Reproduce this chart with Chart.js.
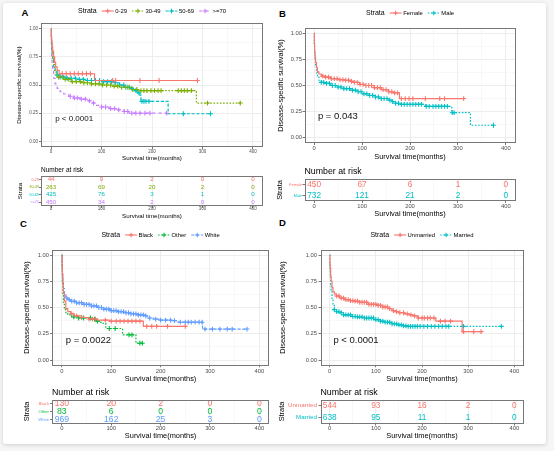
<!DOCTYPE html>
<html lang="en">
<head>
<meta charset="UTF-8">
<title>Disease-specific survival by strata</title>
<script src="https://cdn.jsdelivr.net/npm/chart.js"></script>
<style>
  body { margin: 0; background: #f6f6f6; width: 554px; height: 451px; overflow: hidden; }
  #card { position: absolute; left: 3px; top: 3px; width: 543px; height: 441px; background: #fff;
          border-radius: 3px; box-shadow: 0 1px 4px rgba(0, 0, 0, 0.16); }
  canvas { position: absolute; }
  .tag { position: absolute; font: bold 9.5px "Liberation Sans", Arial, sans-serif; line-height: 10px; color: #000; }
</style>
</head>
<body>
<div id="card"></div>
<div class="tag" style="left:21.5px; top:8px">A</div>
<div class="tag" style="left:279px; top:8.5px">B</div>
<div class="tag" style="left:20px; top:219px">C</div>
<div class="tag" style="left:279px; top:218px">D</div>

<script>
// ---------- data ----------
const timeTicks = [0, 100, 200, 300, 400];
const survTicks = [0, 0.25, 0.5, 0.75, 1];

// A: age group. curves are [time, survival] steps
const ageNames = ['0-29', '30-49', '50-69', '>=70'];
const age0to29 = [[0,1],[0.5,0.93],[1,0.89],[2,0.84],[3,0.80],[5,0.75],[7,0.70],[9,0.66],[12,0.63],[16,0.60],[86,0.54],[290,0.54]];
const age30to49 = [[0,1],[0.5,0.92],[1,0.86],[2,0.80],[3,0.74],[5,0.68],[7,0.63],[10,0.59],[15,0.57],[25,0.55],[40,0.53],[60,0.52],[80,0.51],[100,0.50],[120,0.49],[140,0.48],[160,0.46],[175,0.45],[288,0.34],[375,0.34]];
const age50to69 = [[0,1],[0.5,0.90],[1,0.84],[2,0.78],[3,0.72],[5,0.66],[8,0.62],[12,0.59],[18,0.57],[30,0.56],[50,0.55],[70,0.54],[100,0.53],[125,0.52],[135,0.50],[145,0.48],[155,0.47],[165,0.45],[172,0.43],[176,0.41],[178,0.355],[232,0.245],[316,0.245]];
const age70plus = [[0,1],[0.5,0.85],[1,0.76],[2,0.68],[3,0.62],[5,0.56],[8,0.51],[12,0.47],[18,0.44],[25,0.42],[35,0.40],[45,0.385],[60,0.375],[70,0.36],[80,0.34],[90,0.32],[100,0.305],[115,0.29],[130,0.28],[145,0.265],[155,0.25],[229,0.25]];
const age0to29Cens = [22, 30, 38, 46, 54, 62, 70, 78, 122, 128, 176, 214, 290];
const age30to49Cens = [15, 22, 28, 35, 42, 50, 58, 65, 72, 80, 88, 95, 102, 110, 118, 125, 132, 140, 148, 155, 162, 170, 178, 184, 190, 198, 205, 212, 218, 252, 258, 264, 270, 278, 310, 375];
const age50to69Cens = [12, 18, 25, 32, 40, 48, 56, 64, 72, 80, 88, 96, 104, 112, 120, 128, 136, 144, 152, 160, 168, 174, 180, 184, 188, 194, 262, 316];
const age70plusCens = [38, 46, 52, 60, 68, 76, 84, 100, 108, 118, 126, 134, 145, 152, 160, 168, 176, 186, 196, 229];
const ageRisk = [[44, 9, 2, 0, 0], [263, 69, 20, 2, 0], [425, 76, 3, 1, 0], [450, 34, 2, 0, 0]];
const ageP = 'p < 0.0001';

// B: sex
const sexNames = ['Female', 'Male'];
const female = [[0,1],[0.5,0.90],[1,0.83],[2,0.77],[3,0.72],[5,0.67],[7,0.63],[10,0.61],[15,0.59],[22,0.58],[35,0.565],[50,0.555],[65,0.55],[76,0.54],[83,0.53],[95,0.51],[105,0.50],[125,0.48],[140,0.46],[155,0.44],[165,0.43],[178,0.375],[312,0.375]];
const male = [[0,1],[0.5,0.88],[1,0.80],[2,0.74],[3,0.68],[5,0.62],[7,0.58],[10,0.55],[15,0.53],[21,0.52],[35,0.50],[49,0.485],[62,0.47],[76,0.455],[90,0.44],[100,0.42],[115,0.405],[128,0.39],[140,0.375],[153,0.36],[162,0.345],[170,0.33],[180,0.32],[232,0.30],[287,0.24],[326,0.12],[374,0.12]];
const femaleCens = [18, 24, 30, 36, 42, 48, 54, 60, 66, 72, 78, 84, 90, 96, 102, 108, 114, 120, 126, 132, 138, 144, 150, 156, 162, 168, 174, 182, 190, 198, 206, 232, 262, 272, 312];
const maleCens = [15, 20, 26, 32, 38, 44, 50, 56, 62, 68, 74, 80, 86, 92, 98, 104, 110, 116, 122, 128, 134, 140, 146, 152, 158, 164, 170, 176, 182, 188, 194, 200, 206, 212, 218, 224, 234, 240, 248, 254, 260, 266, 272, 278, 288, 292, 374];
const sexRisk = [[450, 67, 6, 1, 0], [732, 121, 21, 2, 0]];
const sexP = 'p = 0.043';

// C: race
const raceNames = ['Black', 'Other', 'White'];
const black = [[0,1],[0.5,0.90],[1,0.82],[2,0.72],[3,0.64],[5,0.56],[8,0.49],[12,0.46],[18,0.44],[25,0.42],[40,0.405],[55,0.39],[72,0.38],[96,0.37],[165,0.32],[250,0.32]];
const other = [[0,1],[0.5,0.85],[1,0.75],[2,0.62],[3,0.55],[5,0.48],[8,0.45],[12,0.43],[20,0.41],[32,0.40],[59,0.39],[70,0.37],[79,0.35],[89,0.30],[123,0.24],[150,0.16],[163,0.16]];
const white = [[0,1],[0.5,0.88],[1,0.80],[2,0.74],[3,0.68],[5,0.63],[8,0.59],[12,0.575],[18,0.56],[30,0.545],[45,0.53],[60,0.515],[72,0.50],[85,0.485],[99,0.47],[112,0.46],[126,0.45],[140,0.44],[153,0.43],[167,0.42],[175,0.40],[185,0.39],[200,0.38],[221,0.375],[235,0.36],[285,0.295],[375,0.295]];
const blackCens = [20, 30, 40, 55, 62, 68, 88, 100, 110, 118, 126, 134, 142, 150, 158, 172, 182, 192, 214, 250];
const otherCens = [24, 34, 44, 58, 66, 72, 96, 108, 136, 142, 158, 163];
const whiteCens = [10, 15, 20, 25, 30, 35, 40, 45, 50, 55, 60, 65, 70, 75, 80, 85, 90, 95, 100, 105, 110, 115, 120, 125, 130, 135, 140, 145, 150, 155, 160, 165, 170, 178, 190, 200, 210, 220, 228, 240, 250, 256, 262, 270, 278, 284, 290, 305, 320, 335, 345, 375];
const raceRisk = [[130, 20, 2, 0, 0], [83, 6, 0, 0, 0], [969, 162, 25, 3, 0]];
const raceP = 'p = 0.0022';

// D: marital status
const maritalNames = ['Unmarried', 'Married'];
const unmarried = [[0,1],[0.5,0.92],[1,0.87],[2,0.80],[3,0.75],[5,0.69],[7,0.65],[10,0.63],[14,0.61],[22,0.59],[32,0.575],[45,0.565],[54,0.56],[65,0.55],[83,0.53],[104,0.52],[115,0.505],[126,0.49],[135,0.47],[141,0.46],[150,0.45],[162,0.44],[172,0.43],[180,0.42],[191,0.40],[230,0.37],[287,0.27],[328,0.27]];
const married = [[0,1],[0.5,0.88],[1,0.80],[2,0.72],[3,0.65],[5,0.57],[7,0.52],[10,0.48],[15,0.46],[21,0.45],[30,0.43],[46,0.415],[60,0.41],[75,0.40],[97,0.385],[110,0.37],[119,0.36],[135,0.345],[148,0.335],[160,0.325],[170,0.32],[372,0.32]];
const unmarriedCens = [15, 20, 25, 30, 35, 40, 45, 50, 55, 60, 65, 70, 75, 80, 85, 90, 95, 100, 105, 110, 115, 120, 125, 130, 138, 145, 152, 160, 168, 176, 184, 192, 200, 205, 212, 218, 226, 240, 250, 262, 290, 312, 328];
const marriedCens = [10, 15, 20, 25, 30, 35, 40, 45, 50, 55, 60, 65, 70, 75, 80, 85, 90, 95, 100, 105, 110, 115, 120, 125, 130, 135, 140, 145, 150, 155, 160, 165, 170, 175, 180, 185, 190, 196, 204, 212, 220, 228, 236, 244, 252, 258, 290, 372];
const maritalRisk = [[544, 93, 16, 2, 0], [638, 95, 11, 1, 0]];
const maritalP = 'p < 0.0001';

// ---------- style ----------
const FONT = '"Liberation Sans", Arial, sans-serif';
const ageColors = ['#F8766D', '#7CAE00', '#00BFC4', '#C77CFF'];
const sexColors = ['#F8766D', '#00BFC4'];
const raceColors = ['#F8766D', '#00BA38', '#619CFF'];
const maritalColors = ['#F8766D', '#00BFC4'];
const dashes = [[], [1.6, 1.6], [3.2, 1.6], [3.2, 3.2]];

// placement of each canvas; area = [left, top, right, bottom] of the plotting box (page px)
const geoA = {
  km:   { left: 0, top: 0, width: 277, height: 164, area: [41, 23, 263, 147], legendY: 11,
          tickFs: 4.5, titleFs: 6.2, xTickY: 152, xTitleY: 158.5, yTickRight: 38, yTitleX: 19.5, pFs: 8, pX: 8, pY: 0.2 },
  risk: { left: 0, top: 164, width: 277, height: 58, area: [41, 176, 263, 206], headY: 170, headFs: 6.5,
          numFs: 6.2, rowFs: 3.8, tickFs: 4.5, titleFs: 6.2, xTickY: 208.5, xTitleY: 216.5, yTickRight: 39, yTitleX: 20.5 }
};
const geoB = {
  km:   { left: 277, top: 0, width: 277, height: 164, area: [304.5, 28, 515.5, 143], legendY: 13,
          tickFs: 5.8, titleFs: 7.4, xTickY: 148, xTitleY: 157, yTickRight: 302, yTitleX: 281, pFs: 9.5, pX: 8, pY: 0.2 },
  risk: { left: 277, top: 164, width: 277, height: 56, area: [304.5, 179, 515.5, 201], headY: 172, headFs: 8.8,
          numFs: 8.3, rowFs: 3.8, tickFs: 5.8, titleFs: 7.4, xTickY: 206, xTitleY: 213.5, yTickRight: 302, yTitleX: 280 }
};
const geoC = {
  km:   { left: 0, top: 222, width: 277, height: 163, area: [52, 249.75, 269.2, 365.25], legendY: 235,
          tickFs: 5.8, titleFs: 7.4, xTickY: 371, xTitleY: 379, yTickRight: 49, yTitleX: 27, pFs: 9.5, pX: 8, pY: 0.19 },
  risk: { left: 0, top: 385, width: 277, height: 56, area: [52, 399.5, 269.2, 423.5], headY: 393, headFs: 8.8,
          numFs: 8.7, rowFs: 4.2, tickFs: 5.8, titleFs: 7.4, xTickY: 428, xTitleY: 436, yTickRight: 49, yTitleX: 27 }
};
const geoD = {
  km:   { left: 277, top: 222, width: 277, height: 163, area: [320.5, 249.75, 523.5, 365.25], legendY: 235,
          tickFs: 5.8, titleFs: 7.4, xTickY: 371, xTitleY: 379, yTickRight: 317, yTitleX: 283, pFs: 9.5, pX: 8, pY: 0.19 },
  risk: { left: 277, top: 385, width: 277, height: 56, area: [320.5, 399.5, 523.5, 423.5], headY: 393, headFs: 8.8,
          numFs: 8.3, rowFs: 6.2, tickFs: 5.8, titleFs: 7.4, xTickY: 428, xTitleY: 436, yTickRight: 317, yTitleX: 282 }
};

// ---------- helpers ----------
function font(size, weight) { return { family: FONT, size: size, weight: weight || 'normal' }; }
function fontStr(size) { return size + 'px ' + FONT; }
function isMajor(v, ticks) { return ticks.some(t => Math.abs(t - v) < 1e-9); }
function withMinor(ticks) {
  const out = [];
  ticks.forEach((t, i) => { out.push(t); if (i < ticks.length - 1) out.push((t + ticks[i + 1]) / 2); });
  return out;
}
function survAt(curve, t) {
  let s = curve[0][1];
  curve.forEach(([ct, cs]) => { if (ct <= t) s = cs; });
  return s;
}
function makeCanvas(g) {
  const c = document.createElement('canvas');
  c.width = g.width; c.height = g.height;
  c.style.left = g.left + 'px'; c.style.top = g.top + 'px';
  c.style.width = g.width + 'px'; c.style.height = g.height + 'px';
  document.body.appendChild(c);
  return c;
}

const panelBox = {
  id: 'panelBox',
  afterDraw(chart) {
    const a = chart.chartArea, ctx = chart.ctx;
    ctx.save();
    ctx.strokeStyle = '#777';
    ctx.lineWidth = 1;
    ctx.strokeRect(Math.round(a.left) + 0.5, Math.round(a.top) + 0.5, Math.round(a.right - a.left) - 1, Math.round(a.bottom - a.top) - 1);
    ctx.restore();
  }
};

const strataLegend = {
  id: 'strataLegend',
  afterDraw(chart, args, opts) {
    if (!opts.show) return;
    const ctx = chart.ctx, a = chart.chartArea;
    const items = chart.data.datasets.filter(d => d.strata);
    const key = 12, gap = 2.5;
    ctx.save();
    ctx.textBaseline = 'middle';
    ctx.font = fontStr(7);
    const tw = ctx.measureText('Strata').width;
    ctx.font = fontStr(5.9);
    const widths = items.map(d => ctx.measureText(d.label).width);
    const total = tw + widths.reduce((s, w) => s + gap * 2 + key + 1.5 + w, 0);
    let x = (a.left + a.right) / 2 - total / 2;
    const y = opts.y;
    ctx.fillStyle = '#000';
    ctx.font = fontStr(7);
    ctx.fillText('Strata', x, y);
    x += tw + gap * 2;
    items.forEach((d, i) => {
      ctx.strokeStyle = d.borderColor;
      ctx.lineWidth = 1.1;
      ctx.setLineDash(d.borderDash);
      ctx.beginPath(); ctx.moveTo(x, y); ctx.lineTo(x + key, y); ctx.stroke();
      ctx.setLineDash([]);
      ctx.beginPath();
      ctx.moveTo(x + key / 2 - 2.2, y); ctx.lineTo(x + key / 2 + 2.2, y);
      ctx.moveTo(x + key / 2, y - 2.2); ctx.lineTo(x + key / 2, y + 2.2);
      ctx.stroke();
      x += key + 1.5;
      ctx.fillStyle = '#000';
      ctx.font = fontStr(5.9);
      ctx.fillText(d.label, x, y);
      x += widths[i] + gap * 2;
    });
    ctx.restore();
  }
};

const pLabel = {
  id: 'pLabel',
  afterDatasetsDraw(chart, args, opts) {
    if (!opts.text) return;
    const ctx = chart.ctx;
    ctx.save();
    ctx.font = fontStr(opts.size);
    ctx.fillStyle = '#111';
    ctx.textAlign = 'left';
    ctx.textBaseline = 'middle';
    ctx.fillText(opts.text, chart.scales.x.getPixelForValue(opts.x), chart.scales.y.getPixelForValue(opts.y));
    ctx.restore();
  }
};

const riskNumbers = {
  id: 'riskNumbers',
  afterDatasetsDraw(chart, args, opts) {
    if (!opts.size) return;
    const ctx = chart.ctx;
    ctx.save();
    ctx.font = fontStr(opts.size);
    ctx.textAlign = 'center';
    ctx.textBaseline = 'middle';
    chart.data.datasets.forEach((d, i) => {
      ctx.fillStyle = d.textColor;
      chart.getDatasetMeta(i).data.forEach((pt, j) => ctx.fillText(String(d.data[j].n), pt.x, pt.y));
    });
    ctx.restore();
  }
};

function xAxis(g) {
  const tl = 2;
  const bottom = g.area[3] - g.top;
  return {
    type: 'linear', min: -20, max: 420,
    afterBuildTicks: s => { s.ticks = withMinor(timeTicks).map(v => ({ value: v })); },
    afterFit: s => { s.height = g.height - bottom; },
    ticks: {
      autoSkip: false, maxRotation: 0, minRotation: 0,
      font: font(g.tickFs), color: '#4d4d4d',
      padding: g.xTickY - g.area[3] - tl - 0.6 * g.tickFs,
      callback: v => isMajor(v, timeTicks) ? String(v) : ''
    },
    grid: {
      color: c => (c.tick && isMajor(c.tick.value, timeTicks)) ? '#ebebeb' : '#f4f4f4',
      lineWidth: c => (c.tick && isMajor(c.tick.value, timeTicks)) ? 0.9 : 0.6,
      tickLength: tl,
      tickColor: c => (c.tick && isMajor(c.tick.value, timeTicks)) ? '#555' : 'rgba(0,0,0,0)',
      tickWidth: 0.8
    },
    border: { display: false },
    title: {
      display: true, text: 'Survival time(months)', font: font(g.titleFs), color: '#000',
      padding: { top: 0, bottom: g.top + g.height - g.xTitleY - 0.6 * g.titleFs }
    }
  };
}

function kmChart(g, names, curves, cens, colors, pText) {
  const datasets = [];
  curves.forEach((cv, i) => {
    datasets.push({
      label: names[i], strata: true,
      data: cv.map(([t, s]) => ({ x: t, y: s })),
      borderColor: colors[i], borderWidth: 1.2, borderDash: dashes[i],
      stepped: 'before', pointRadius: 0, fill: false
    });
  });
  curves.forEach((cv, i) => {
    datasets.push({
      label: names[i] + ' censored',
      data: cens[i].map(t => ({ x: t, y: survAt(cv, t) })),
      showLine: false, pointStyle: 'cross', pointRadius: 2.4,
      pointBorderColor: colors[i], pointBackgroundColor: colors[i], pointBorderWidth: 1.1
    });
  });
  const tl = 2;
  new Chart(makeCanvas(g), {
    type: 'line',
    data: { datasets: datasets },
    plugins: [panelBox, strataLegend, pLabel],
    options: {
      responsive: false, animation: false, events: [],
      layout: { padding: { left: 0, top: g.area[1] - g.top, right: g.left + g.width - g.area[2], bottom: 0 } },
      scales: {
        x: xAxis(g),
        y: {
          type: 'linear', min: -0.05, max: 1.05,
          afterBuildTicks: s => { s.ticks = withMinor(survTicks).map(v => ({ value: v })); },
          afterFit: s => { s.width = g.area[0] - g.left; },
          ticks: {
            autoSkip: false, font: font(g.tickFs), color: '#4d4d4d',
            padding: g.area[0] - tl - g.yTickRight,
            callback: v => isMajor(v, survTicks) ? v.toFixed(2) : ''
          },
          grid: {
            color: c => (c.tick && isMajor(c.tick.value, survTicks)) ? '#ebebeb' : '#f4f4f4',
            lineWidth: c => (c.tick && isMajor(c.tick.value, survTicks)) ? 0.9 : 0.6,
            tickLength: tl,
            tickColor: c => (c.tick && isMajor(c.tick.value, survTicks)) ? '#555' : 'rgba(0,0,0,0)',
            tickWidth: 0.8
          },
          border: { display: false },
          title: {
            display: true, text: 'Disease-specific survival(%)', font: font(g.titleFs), color: '#000',
            padding: { top: g.yTitleX - g.left - 0.6 * g.titleFs, bottom: 0 }
          }
        }
      },
      plugins: {
        legend: { display: false }, tooltip: { enabled: false },
        strataLegend: { show: true, y: g.legendY - g.top },
        pLabel: { text: pText, size: g.pFs, x: g.pX, y: g.pY }
      }
    }
  });
}

function riskChart(g, names, risk, colors) {
  const datasets = names.map((n, i) => ({
    label: n, textColor: colors[i],
    data: timeTicks.map((t, j) => ({ x: t, y: i, n: risk[i][j] })),
    showLine: false, pointRadius: 0
  }));
  const tl = 2;
  const headPadTop = g.headY - g.top - 0.6 * g.headFs;
  new Chart(makeCanvas(g), {
    type: 'line',
    data: { datasets: datasets },
    plugins: [panelBox, riskNumbers],
    options: {
      responsive: false, animation: false, events: [],
      layout: { padding: { left: 0, top: 0, right: g.left + g.width - g.area[2], bottom: 0 } },
      scales: {
        x: xAxis(g),
        y: {
          type: 'linear', min: -0.5, max: names.length - 0.5, reverse: true,
          afterBuildTicks: s => { s.ticks = names.map((n, i) => ({ value: i })); },
          afterFit: s => { s.width = g.area[0] - g.left; },
          ticks: {
            autoSkip: false, font: font(g.rowFs),
            color: c => colors[c.index],
            padding: g.area[0] - tl - g.yTickRight,
            callback: v => names[v]
          },
          grid: { drawOnChartArea: false, tickLength: tl, tickColor: '#555', tickWidth: 0.8 },
          border: { display: false },
          title: {
            display: true, text: 'Strata', font: font(g.titleFs), color: '#000',
            padding: { top: g.yTitleX - g.left - 0.6 * g.titleFs, bottom: 0 }
          }
        }
      },
      plugins: {
        legend: { display: false }, tooltip: { enabled: false },
        title: {
          display: true, text: 'Number at risk', align: 'start', fullSize: false,
          font: font(g.headFs), color: '#000',
          padding: { top: headPadTop, bottom: g.area[1] - g.top - headPadTop - 1.2 * g.headFs }
        },
        riskNumbers: { size: g.numFs }
      }
    }
  });
}

kmChart(geoA.km, ageNames, [age0to29, age30to49, age50to69, age70plus],
        [age0to29Cens, age30to49Cens, age50to69Cens, age70plusCens], ageColors, ageP);
riskChart(geoA.risk, ageNames, ageRisk, ageColors);

kmChart(geoB.km, sexNames, [female, male], [femaleCens, maleCens], sexColors, sexP);
riskChart(geoB.risk, sexNames, sexRisk, sexColors);

kmChart(geoC.km, raceNames, [black, other, white], [blackCens, otherCens, whiteCens], raceColors, raceP);
riskChart(geoC.risk, raceNames, raceRisk, raceColors);

kmChart(geoD.km, maritalNames, [unmarried, married], [unmarriedCens, marriedCens], maritalColors, maritalP);
riskChart(geoD.risk, maritalNames, maritalRisk, maritalColors);
</script>
</body>
</html>
